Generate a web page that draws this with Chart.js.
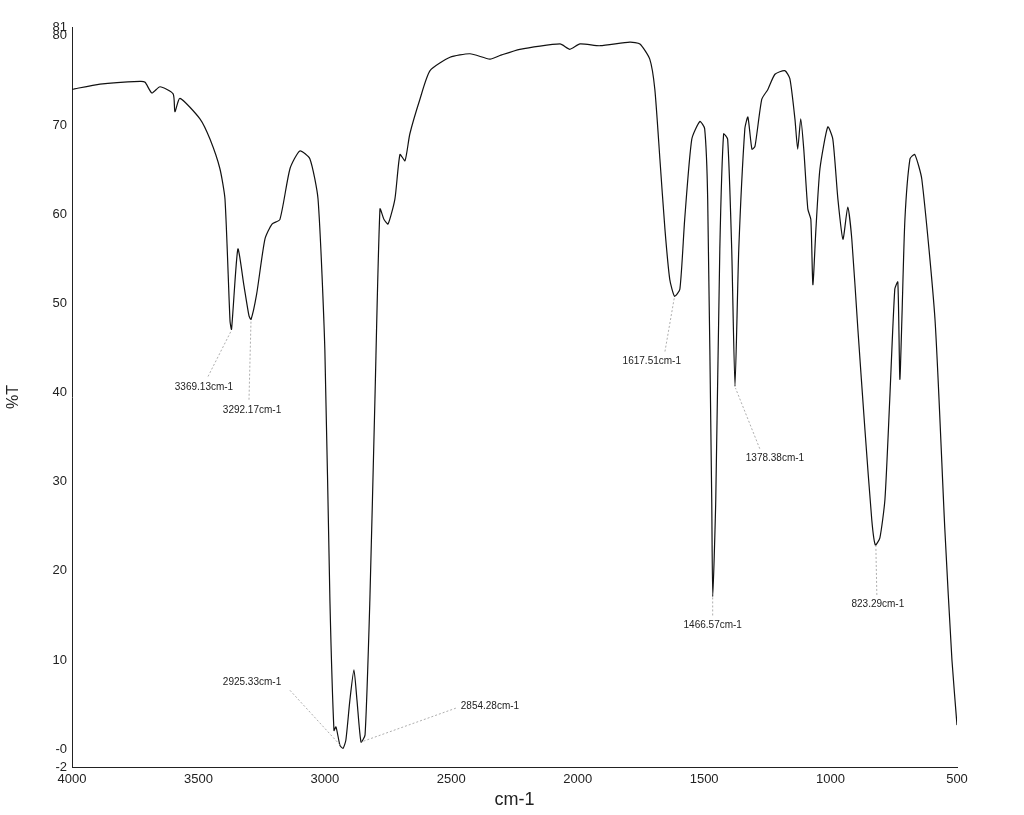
<!DOCTYPE html>
<html>
<head>
<meta charset="utf-8">
<script src="https://cdn.jsdelivr.net/npm/chart.js@4"></script>
<style>
  body { margin: 0; background: #fff; }
  #wrap { width: 1024px; height: 815px; }
</style>
</head>
<body>
<div id="wrap"><canvas id="ir"></canvas></div>
<script>
// spectrum: wavenumber (cm-1) and %T
const wavenumbers = [4000,3889,3731,3711,3684,3652,3600,3593,3573,3494,3454,3415,3395,3375,3369,3344,3320,3300,3292,3270,3237,3209,3178,3138,3099,3059,3027,3000,2980,2964,2956,2940,2928,2917,2901,2885,2873,2857,2841,2822,2802,2782,2766,2750,2723,2703,2683,2664,2624,2584,2505,2426,2347,2308,2229,2070,2031,1991,1912,1794,1754,1715,1695,1675,1655,1636,1617,1596,1577,1549,1517,1498,1486,1470,1466,1454,1438,1423,1407,1391,1378,1363,1339,1327,1311,1299,1272,1248,1220,1181,1161,1141,1130,1118,1106,1090,1078,1070,1058,1042,1011,991,971,951,932,916,892,864,837,823,805,785,766,746,734,726,718,706,686,667,639,587,548,520,500];
const transmittance = [74.0,74.6,74.9,74.8,73.6,74.3,73.5,71.5,73.0,70.7,68.4,65.1,61.7,48.0,47.1,56.1,52.0,48.6,48.2,51.0,57.2,58.9,59.4,65.1,67.1,66.2,61.7,44.8,16.7,2.1,2.5,0.4,0.1,1.0,5.5,8.9,5.5,0.8,1.6,16.7,39.2,60.6,59.4,58.9,61.7,66.7,66.0,69.0,72.9,76.1,77.6,78.0,77.4,77.8,78.5,79.1,78.5,79.1,78.9,79.3,79.1,77.4,74.0,66.2,58.3,52.7,50.8,51.6,59.4,68.4,70.4,69.6,61.7,28.0,17.1,28.0,56.1,69.0,68.4,56.1,40.7,56.1,69.6,70.9,67.3,67.6,72.9,74.0,75.7,76.1,75.2,70.7,67.3,70.7,67.3,60.6,59.4,52.1,58.3,65.1,69.8,68.4,61.7,57.2,60.8,57.2,47.1,35.8,25.7,22.9,23.7,28.0,39.2,51.6,52.4,41.5,48.2,59.4,66.2,66.7,63.9,48.2,24.6,10.0,2.7];
const yTicks = [-2,0,10,20,30,40,50,60,70,80,81];
const xTicks = [4000,3500,3000,2500,2000,1500,1000,500];

// peak labels: text, peak [x,y], label anchor [x,y], leader start [x,y]
const peakLabels = ["3369.13cm-1","3292.17cm-1","2925.33cm-1","2854.28cm-1","1617.51cm-1","1466.57cm-1","1378.38cm-1","823.29cm-1"];
const peakPoints = [[3369,47.0],[3292,48.2],[2928,0.1],[2857,0.8],[1617,50.8],[1466,17.1],[1376,40.5],[821,22.9]];
const labelPoints = [[3478,40.6],[3288,38.0],[3288,7.5],[2347,4.8],[1707,43.5],[1466,13.9],[1220,32.6],[813,16.2]];
const leaderStarts = [[3462,41.8],[3300,39.2],[3138,6.6],[2482,4.6],[1655,44.6],[1466,15.0],[1280,33.7],[817,17.3]];

const peakPlugin = {
  id: "peaks",
  afterDatasetsDraw(chart) {
    const { ctx, scales: { x, y } } = chart;
    ctx.save();
    ctx.strokeStyle = "#999";
    ctx.lineWidth = 0.8;
    ctx.setLineDash([2, 2]);
    peakPoints.forEach((p, i) => {
      const s = leaderStarts[i];
      ctx.beginPath();
      ctx.moveTo(x.getPixelForValue(s[0]), y.getPixelForValue(s[1]));
      ctx.lineTo(x.getPixelForValue(p[0]), y.getPixelForValue(p[1]));
      ctx.stroke();
    });
    ctx.setLineDash([]);
    ctx.fillStyle = "#222";
    ctx.font = "10px Arial, 'Liberation Sans', sans-serif";
    ctx.textAlign = "center";
    ctx.textBaseline = "middle";
    labelPoints.forEach((l, i) => {
      ctx.fillText(peakLabels[i], x.getPixelForValue(l[0]), y.getPixelForValue(l[1]));
    });
    ctx.restore();
  }
};

Chart.defaults.font.family = "Arial, 'Liberation Sans', sans-serif";
Chart.defaults.color = "#222";

new Chart(document.getElementById("ir"), {
  type: "line",
  data: {
    datasets: [{
      data: wavenumbers.map((w, i) => ({ x: w, y: transmittance[i] })),
      borderColor: "#111",
      borderWidth: 1.2,
      pointRadius: 0,
      tension: 0.2,
      fill: false
    }]
  },
  options: {
    responsive: true,
    maintainAspectRatio: false,
    animation: false,
    layout: { padding: { top: 27, right: 67, left: 0, bottom: 0 } },
    plugins: { legend: { display: false }, tooltip: { enabled: false } },
    scales: {
      x: {
        type: "linear",
        reverse: true,
        min: 500,
        max: 4000,
        afterBuildTicks: s => { s.ticks = xTicks.map(v => ({ value: v })); },
        afterFit: s => { s.height = 48; },
        grid: { display: false, drawTicks: true, tickLength: 4, tickColor: "#222" },
        border: { color: "#222" },
        ticks: { font: { size: 13 }, maxRotation: 0, padding: 1, callback: v => String(v) },
        title: { display: true, text: "cm-1", font: { size: 18 }, padding: { top: 2 } }
      },
      y: {
        min: -2,
        max: 81,
        afterBuildTicks: s => { s.ticks = yTicks.map(v => ({ value: v })); },
        afterFit: s => { s.width = 72; },
        grid: { display: false, drawTicks: true, tickLength: 4, tickColor: "#222" },
        border: { color: "#222" },
        ticks: { font: { size: 13 }, padding: 1, callback: v => v === 0 ? "-0" : v },
        title: { display: true, text: "%T", font: { size: 16 } }
      }
    }
  },
  plugins: [peakPlugin]
});
</script>
</body>
</html>
